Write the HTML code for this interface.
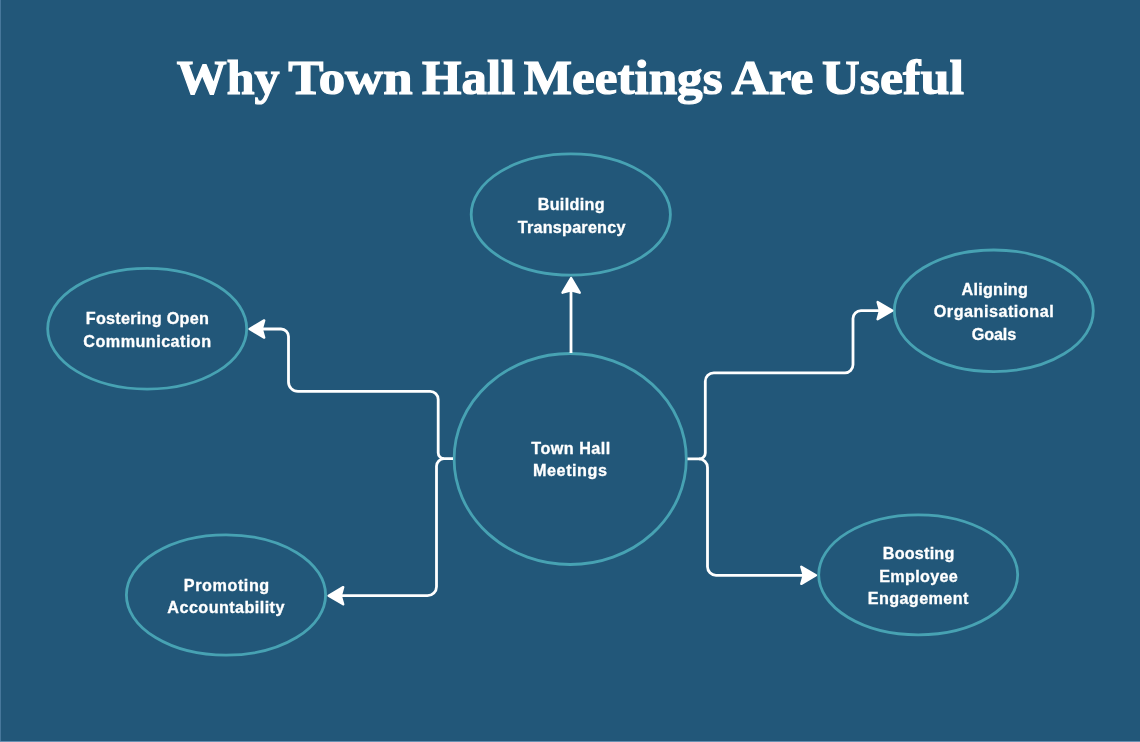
<!DOCTYPE html>
<html>
<head>
<meta charset="utf-8">
<style>
html,body{margin:0;padding:0;background:#225779;}
body{width:1140px;height:742px;overflow:hidden;position:relative;}
svg{position:absolute;left:0;top:0;display:block;will-change:transform;}
.t{font-family:"Liberation Serif",serif;font-weight:bold;fill:#fff;}
.n{font-family:"Liberation Sans",sans-serif;font-weight:bold;fill:#fff;font-size:16.2px;stroke:#fff;stroke-width:0.3px;}
</style>
</head>
<body>
<svg width="1140" height="742" viewBox="0 0 1140 742">
<rect width="1140" height="742" fill="#225779"/>
<rect x="0" y="0" width="1" height="742" fill="#47779b"/>
<rect x="0" y="741" width="1140" height="1" fill="#6690b2"/>
<!-- title -->
<g class="t" font-size="49.0" text-anchor="middle" stroke="#fff" stroke-width="1.2">
<text x="228.15" y="93.6" textLength="102.70" lengthAdjust="spacingAndGlyphs">Why</text>
<text x="350.40" y="93.6" textLength="124.20" lengthAdjust="spacingAndGlyphs">Town</text>
<text x="468.65" y="93.6" textLength="93.10" lengthAdjust="spacingAndGlyphs">Hall</text>
<text x="623.15" y="93.6" textLength="198.90" lengthAdjust="spacingAndGlyphs">Meetings</text>
<text x="772.50" y="93.6" textLength="81.80" lengthAdjust="spacingAndGlyphs">Are</text>
<text x="892.95" y="93.6" textLength="141.90" lengthAdjust="spacingAndGlyphs">Useful</text>
</g>

<!-- ellipses -->
<g fill="none" stroke="#47a2b3" stroke-width="2.8">
<ellipse cx="570.8" cy="214.5" rx="99.6" ry="60.6"/>
<ellipse cx="147.2" cy="328.7" rx="99.5" ry="60.4"/>
<ellipse cx="993.8" cy="310.8" rx="99.5" ry="60.8"/>
<ellipse cx="570.2" cy="459" rx="116.1" ry="105.5"/>
<ellipse cx="226" cy="595" rx="99.6" ry="60.2"/>
<ellipse cx="918.2" cy="574.8" rx="99.5" ry="60"/>
</g>

<!-- connectors -->
<g fill="none" stroke="#fff" stroke-width="2.8" stroke-linecap="butt" stroke-linejoin="round">
<path d="M571 353 V289"/>
<path d="M453 458.7 H444 A6 6 0 0 1 438.2 452.7 V399.4 A8 8 0 0 0 430.2 391.4 H298 A9.5 9.5 0 0 1 288.5 381.9 V336.5 A7.5 7.5 0 0 0 281 329 H262"/>
<path d="M444 458.7 A7.5 7.5 0 0 0 436.5 466.2 V586.7 A9 9 0 0 1 427.5 595.7 H341"/>
<path d="M687.5 458.9 H699 A6 6 0 0 0 705.3 452.9 V381.3 A8.5 8.5 0 0 1 713.8 372.8 H845 A8 8 0 0 0 853 364.8 V318.6 A8 8 0 0 1 861 310.6 H879"/>
<path d="M699 458.9 A8.5 8.5 0 0 1 707.5 467.4 V566.8 A8.5 8.5 0 0 0 716 575.3 H803"/>
</g>
<!-- arrowheads -->
<g fill="#fff" stroke="#fff" stroke-width="2.4" stroke-linejoin="round">
<path d="M-1.2 0 L-15.8 -8.6 L-13.4 0 L-15.8 8.6 Z" transform="translate(248.4,329) rotate(180)"/>
<path d="M-1.2 0 L-15.8 -8.6 L-13.4 0 L-15.8 8.6 Z" transform="translate(327.4,595.7) rotate(180)"/>
<path d="M-1.2 0 L-15.8 -8.6 L-13.4 0 L-15.8 8.6 Z" transform="translate(893.4,310.6)"/>
<path d="M-1.2 0 L-15.8 -8.6 L-13.4 0 L-15.8 8.6 Z" transform="translate(817.1,575.3)"/>
<path d="M-1.2 0 L-15.8 -8.6 L-13.4 0 L-15.8 8.6 Z" transform="translate(571.1,276.9) rotate(-90)"/>
</g>

<!-- labels -->
<g class="n" text-anchor="middle">
<text x="571.10" y="209.7" textLength="66.90" lengthAdjust="spacing">Building</text>
<text x="571.60" y="232.5" textLength="107.70" lengthAdjust="spacing">Transparency</text>
<text x="147.30" y="323.8" textLength="123.10" lengthAdjust="spacing">Fostering Open</text>
<text x="147.20" y="346.5" textLength="127.70" lengthAdjust="spacing">Communication</text>
<text x="994.70" y="294.5" textLength="66.30" lengthAdjust="spacing">Aligning</text>
<text x="993.70" y="317.2" textLength="119.90" lengthAdjust="spacing">Organisational</text>
<text x="994.00" y="339.8" textLength="44.30" lengthAdjust="spacing">Goals</text>
<text x="570.75" y="454.2" textLength="79.00" lengthAdjust="spacing">Town Hall</text>
<text x="570.00" y="476.3" textLength="73.90" lengthAdjust="spacing">Meetings</text>
<text x="226.50" y="590.6" textLength="85.50" lengthAdjust="spacing">Promoting</text>
<text x="225.90" y="612.7" textLength="117.10" lengthAdjust="spacing">Accountability</text>
<text x="918.55" y="558.8" textLength="71.60" lengthAdjust="spacing">Boosting</text>
<text x="918.50" y="581.5" textLength="78.50" lengthAdjust="spacing">Employee</text>
<text x="918.05" y="604.2" textLength="100.60" lengthAdjust="spacing">Engagement</text>
</g>
</svg>
</body>
</html>
